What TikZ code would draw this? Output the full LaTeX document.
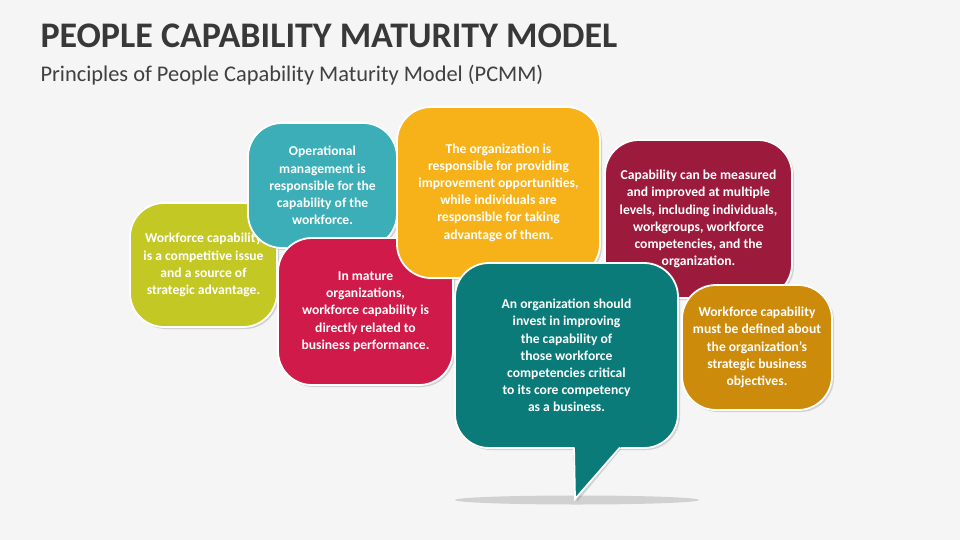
\documentclass[tikz,border=0pt]{standalone}
\usepackage{fontspec}
\setmainfont{Carlito}
\usetikzlibrary{shadows}
\begin{document}
\begin{tikzpicture}[x=1pt,y=-1pt,
  bub/.style={draw=white,line width=1.8pt,rounded corners=34pt,align=center,text=white,
    font=\fontsize{13.6}{17.2}\selectfont\bfseries,inner sep=0pt,
    drop shadow={shadow xshift=2pt,shadow yshift=-2pt,opacity=0.3}},
]
\definecolor{lime}{HTML}{C3C824}
\definecolor{tealA}{HTML}{3BAEB7}
\definecolor{crim}{HTML}{CF1A4A}
\definecolor{oran}{HTML}{F6B218}
\definecolor{dred}{HTML}{9C1B3C}
\definecolor{tealB}{HTML}{0B7B7A}
\definecolor{gold}{HTML}{CD8B0B}
\fill[fill=black!4] (0,0) rectangle (960,540);
\useasboundingbox (0,0) rectangle (960,540);
\node[anchor=west,font=\fontsize{36}{38}\selectfont\bfseries,text=black!78] (title) at (37,36) {PEOPLE CAPABILITY MATURITY MODEL};
\node[anchor=west,font=\fontsize{22.4}{24}\selectfont,text=black!75] (sub) at (37,75) {Principles of People Capability Maturity Model (PCMM)};
\fill[black!18] (577,500) ellipse (122 and 4.5);
\node[bub,fill=lime,minimum width=147pt,minimum height=124pt] (b1) at (203.5,265) {Workforce capability\\is a competitive issue\\and a source of\\strategic advantage.};
\node[bub,fill=tealA,minimum width=149pt,minimum height=125pt] (b2) at (322.5,185.5) {Operational\\management is\\responsible for the\\capability of the\\workforce.};
\node[bub,fill=crim,minimum width=175pt,minimum height=147pt] (b3) at (365.5,311.5) {In mature\\organizations,\\workforce capability is\\directly related to\\business performance.};
\node[bub,fill=oran,minimum width=203pt,minimum height=171pt] (b4) at (498.5,192.5) {The organization is\\responsible for providing\\improvement opportunities,\\while individuals are\\responsible for taking\\advantage of them.};
\node[bub,fill=dred,minimum width=187pt,minimum height=158pt] (b5) at (698.5,219) {Capability can be measured\\and improved at multiple\\levels, including individuals,\\workgroups, workforce\\competencies, and the\\organization.};
\fill[tealB,drop shadow={shadow xshift=2pt,shadow yshift=-2pt,opacity=0.3}] (573,440) -- (575,500) -- (625,440) -- cycle;
\node[bub,fill=tealB,minimum width=223pt,minimum height=185pt] (b6) at (566.5,355.5) {An organization should\\invest in improving\\the capability of\\those workforce\\competencies critical\\to its core competency\\as a business.};
\fill[tealB] (574,446) -- (575,499) -- (622,446) -- cycle;
\draw[white,line width=1.8pt] (574,447.5) -- (575,499) -- (620,447.5);
\node[bub,fill=gold,minimum width=150pt,minimum height=125pt] (b7) at (757,347.5) {Workforce capability\\must be defined about\\the organization's\\strategic business\\objectives.};
\end{tikzpicture}
\end{document}
